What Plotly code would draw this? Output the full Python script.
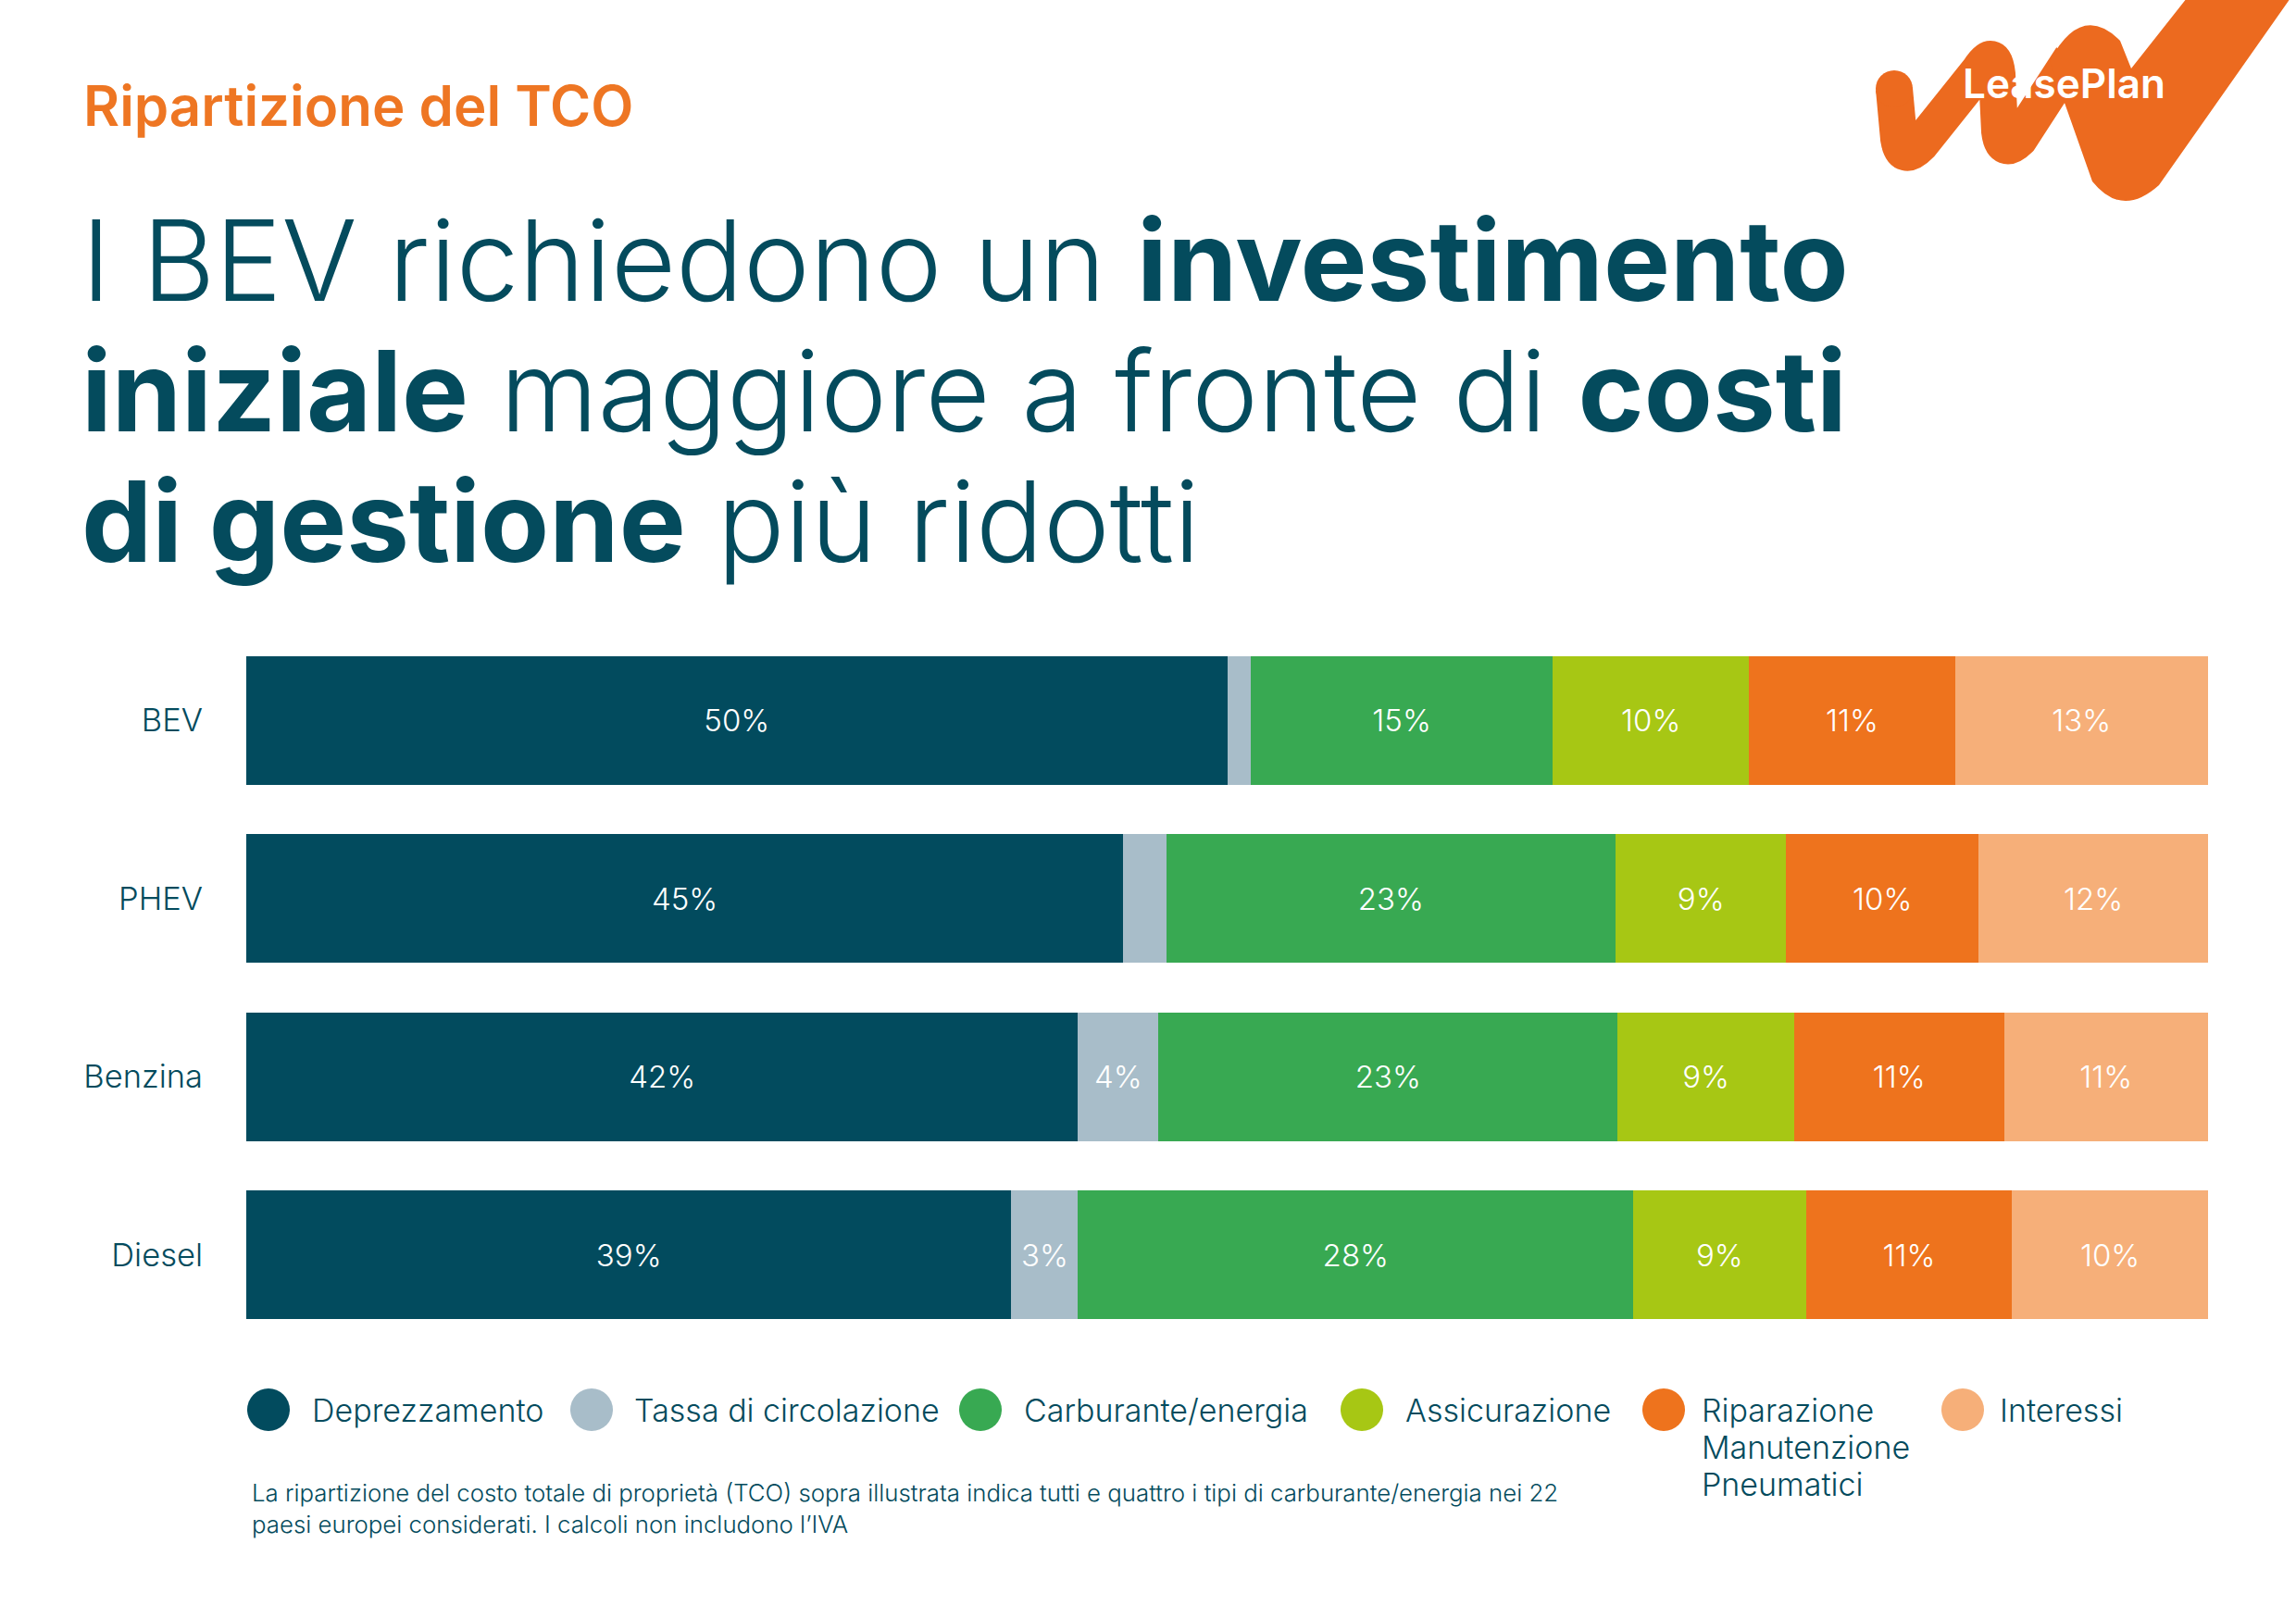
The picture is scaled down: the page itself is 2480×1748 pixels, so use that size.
import plotly.graph_objects as go

# ---------------- data ----------------
categories = ["BEV", "PHEV", "Benzina", "Diesel"]
series_names = ["Deprezzamento", "Tassa di circolazione", "Carburante/energia",
                "Assicurazione", "Riparazione<br>Manutenzione<br>Pneumatici", "Interessi"]
# bar lengths (share of TCO, %)
deprezzamento = [50.0, 44.7, 42.4, 39.0]
tassa = [1.2, 2.2, 4.1, 3.4]
carburante = [15.4, 22.9, 23.4, 28.3]
assicurazione = [10.0, 8.7, 9.0, 8.8]
riparazione = [10.5, 9.8, 10.7, 10.5]
interessi = [12.9, 11.7, 10.4, 10.0]
# printed labels
deprezzamento_lbl = ["50%", "45%", "42%", "39%"]
tassa_lbl = ["", "", "4%", "3%"]
carburante_lbl = ["15%", "23%", "23%", "28%"]
assicurazione_lbl = ["10%", "9%", "9%", "9%"]
riparazione_lbl = ["11%", "10%", "11%", "11%"]
interessi_lbl = ["13%", "12%", "11%", "10%"]

colors = ["#024B5E", "#A8BDC9", "#38A952", "#A7C714", "#EE731D", "#F6AF79"]
TEAL = "#044B5D"
ORANGE = "#EE7623"
FONT = "Inter"

W, H = 2480, 1748
L, R, T, B = 266, 95, 682, 296
PW, PH = W - L - R, H - T - B


def px(x):
    return (x - L) / PW


def py(y):
    return 1 - (y - T) / PH


series_values = [deprezzamento, tassa, carburante, assicurazione, riparazione, interessi]
series_labels = [deprezzamento_lbl, tassa_lbl, carburante_lbl, assicurazione_lbl,
                 riparazione_lbl, interessi_lbl]

fig = go.Figure()
for name, vals, lbls, col in zip(series_names, series_values, series_labels, colors):
    fig.add_trace(go.Bar(
        y=categories, x=vals, orientation="h", name=name.replace("<br>", " "),
        marker=dict(color=col, line=dict(width=0)),
        text=lbls, textposition="inside", insidetextanchor="middle", textangle=0,
        textfont=dict(family=FONT, size=33, color="white", weight=300),
        showlegend=False, hoverinfo="name+x",
    ))

fig.update_layout(
    width=W, height=H,
    margin=dict(l=L, r=R, t=T, b=B, pad=0),
    barmode="stack", barnorm="percent", bargap=0.28,
    paper_bgcolor="white", plot_bgcolor="white",
    uniformtext=dict(mode="show", minsize=33),
    xaxis=dict(range=[0, 100], visible=False, fixedrange=True),
    yaxis=dict(categoryorder="array", categoryarray=categories, range=[3.5, -0.5],
               showgrid=False, zeroline=False, showline=False, ticks="",
               ticklabelstandoff=46,
               tickfont=dict(family=FONT, size=34.5, color=TEAL, weight=300)),
    font=dict(family=FONT, color=TEAL),
)

annotations = []
shapes = []

# subtitle
annotations.append(dict(text="Ripartizione del TCO", x=px(88), y=py(114), xref="paper", yref="paper",
                        xanchor="left", yanchor="middle", showarrow=False,
                        font=dict(family=FONT, size=60, color=ORANGE, weight=600)))
# headline
head_lines = ["I BEV richiedono un <b>investimento</b>",
              "<b>iniziale</b> maggiore a fronte di <b>costi</b>",
              "<b>di gestione</b> più ridotti"]
head_y = [281, 422, 563]
for txt, yy in zip(head_lines, head_y):
    annotations.append(dict(text=txt, x=px(86), y=py(yy), xref="paper", yref="paper",
                            xanchor="left", yanchor="middle", showarrow=False,
                            font=dict(family=FONT, size=121, color=TEAL, weight=300)))

# legend (manual, circles + labels)
leg_cx = [290, 639, 1059, 1471, 1797, 2120]
leg_tx = [335, 683, 1104, 1516, 1836, 2158]
leg_y = 1523
for name, col, cx, tx in zip(series_names, colors, leg_cx, leg_tx):
    shapes.append(dict(type="circle", xref="paper", yref="paper",
                       xsizemode="pixel", ysizemode="pixel",
                       xanchor=px(cx), yanchor=py(leg_y),
                       x0=-23, x1=23, y0=-23, y1=23,
                       fillcolor=col, line=dict(width=0)))
    for k, part in enumerate(name.split("<br>")):
        annotations.append(dict(text=part, x=px(tx), y=py(leg_y + 40 * k), xref="paper", yref="paper",
                                xanchor="left", yanchor="middle", showarrow=False,
                                font=dict(family=FONT, size=34, color=TEAL, weight=300)))

# footnote
annotations.append(dict(
    text="La ripartizione del costo totale di proprietà (TCO) sopra illustrata indica tutti e quattro i tipi di carburante/energia nei 22<br>paesi europei considerati. I calcoli non includono l’IVA",
    x=px(270), y=py(1595), xref="paper", yref="paper", xanchor="left", yanchor="top",
    align="left", showarrow=False,
    font=dict(family=FONT, size=25.8, color=TEAL, weight=300)))


# ---------------- logo ----------------
def P(x, y):
    return f"{px(x):.5f},{py(y):.5f}"


LOGO = "#EC6A1F"
ribbon = ("M " + P(2046, 96) + " L " + P(2051, 150) + " Q " + P(2055, 176) + " " + P(2074, 156) +
          " L " + P(2138, 76) + " Q " + P(2154, 50) + " " + P(2157, 80) +
          " L " + P(2160, 142) + " Q " + P(2163, 168) + " " + P(2181, 150) +
          " L " + P(2238, 62))
shapes.append(dict(type="path", path=ribbon, xref="paper", yref="paper",
                   line=dict(color=LOGO, width=40)))
shapes.append(dict(type="circle", xref="paper", yref="paper", xsizemode="pixel", ysizemode="pixel",
                   xanchor=px(2046), yanchor=py(96), x0=-20, x1=20, y0=-20, y1=20,
                   fillcolor=LOGO, line=dict(width=0)))
big = ("M " + P(2214, 66) + " Q " + P(2248, 2) + " " + P(2290, 44) +
       " L " + P(2302, 74) + " L " + P(2362, -2) + " L " + P(2474, -2) +
       " L " + P(2332, 200) + " Q " + P(2292, 236) + " " + P(2260, 196) +
       " L " + P(2236, 128) + " Z")
shapes.append(dict(type="path", path=big, xref="paper", yref="paper",
                   fillcolor=LOGO, line=dict(width=0)))
annotations.append(dict(text="LeasePlan", x=px(2229), y=py(90), xref="paper", yref="paper",
                        xanchor="center", yanchor="middle", showarrow=False,
                        font=dict(family=FONT, size=44, color="white", weight=600)))

fig.update_layout(annotations=annotations, shapes=shapes)
fig.write_html("out.html")
